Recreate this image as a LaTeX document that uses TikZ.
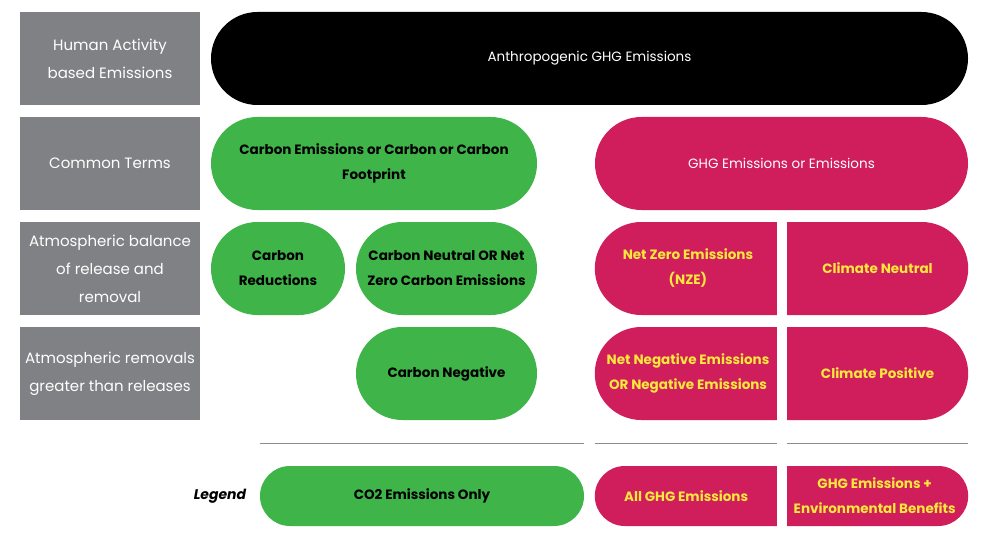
\documentclass[tikz,border=0pt]{standalone}
\usepackage{fontspec}
\setmainfont{Poppins}
\usetikzlibrary{shapes.misc}
\definecolor{labelgray}{RGB}{128,129,132}
\definecolor{co2green}{RGB}{62,180,73}
\definecolor{ghgpink}{RGB}{208,29,91}
\definecolor{ghgyellow}{RGB}{250,232,60}
\definecolor{sepgray}{RGB}{140,140,140}

\begin{document}
\begin{tikzpicture}[x=1pt,y=-1pt,
    lbl/.style={fill=labelgray,text=white,minimum width=180pt,minimum height=93pt,inner sep=0pt,align=center,font=\fontsize{15}{28}\selectfont},
    pill/.style={rounded rectangle,minimum height=93pt,inner sep=0pt,align=center,font=\fontsize{13.5}{25}\selectfont\bfseries},
    co2/.style={pill,fill=co2green,text=black},
    ghg/.style={pill,fill=ghgpink,text=ghgyellow},
    flatright/.style={rounded rectangle east arc=none,anchor=east},
    flatleft/.style={rounded rectangle west arc=none,anchor=west},
    sep/.style={sepgray,line width=0.8pt}]
\useasboundingbox[fill=white](0,0) rectangle (1000,540);
\foreach \t [count=\i] in {{Human Activity\\based Emissions},{Common Terms},
    {Atmospheric balance\\of release and\\removal},{Atmospheric removals\\greater than releases}}
    \node[lbl] (lbl\i) at (110,{105*\i-46.5}) {\t};
\node[pill,fill=black,text=white,minimum width=757pt,font=\fontsize{13.5}{25}\selectfont] (anthro) at (589.5,58.5) {Anthropogenic GHG Emissions};
\node[co2,minimum width=326pt] (carbon) at (374,163.5) {Carbon Emissions or Carbon or Carbon\\Footprint};
\node[ghg,minimum width=373pt,text=white,font=\fontsize{13.5}{25}\selectfont] (ghgterm) at (781.5,163.5) {GHG Emissions or Emissions};
\node[co2,minimum width=134pt] (reduce) at (278,268.5) {Carbon\\Reductions};
\node[co2,minimum width=181pt] (neutral) at (446.5,268.5) {Carbon Neutral OR Net\\Zero Carbon Emissions};
\node[ghg,flatright,minimum width=182pt] (nze) at (777,268.5) {Net Zero Emissions\\(NZE)};
\node[ghg,flatleft,minimum width=181pt] (climneutral) at (787,268.5) {Climate Neutral};
\node[co2,minimum width=181pt] (negative) at (446.5,373.5) {Carbon Negative};
\node[ghg,flatright,minimum width=182pt] (netneg) at (777,373.5) {Net Negative Emissions\\OR Negative Emissions};
\node[ghg,flatleft,minimum width=181pt] (climpos) at (787,373.5) {Climate Positive};
% legend
\node[font=\fontsize{14}{17}\selectfont\bfseries\itshape] (legend) at (220,496) {Legend};
\node[co2,minimum width=324pt,minimum height=60pt] (legco2) at (422,496) {CO2 Emissions Only};
\node[ghg,flatright,minimum width=182pt,minimum height=60pt] (legghg) at (777,496) {All GHG Emissions};
\node[ghg,flatleft,minimum width=181pt,minimum height=60pt] (legenv) at (787,496) {GHG Emissions +\\Environmental Benefits};
\foreach \n in {legco2,legghg,legenv}
    \draw[sep] (\n.west |- 0,443) -- (\n.east |- 0,443);
\end{tikzpicture}
\end{document}
